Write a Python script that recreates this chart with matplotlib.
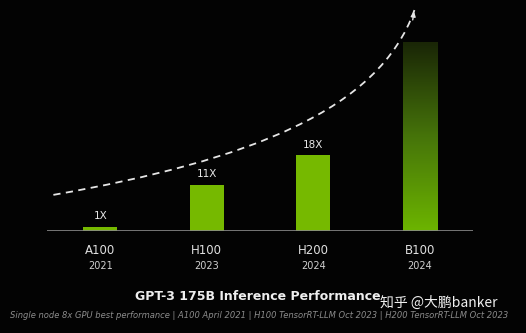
import numpy as np
import matplotlib.pyplot as plt
from matplotlib.colors import LinearSegmentedColormap
from matplotlib.path import Path
from matplotlib.patches import PathPatch

gpus = ['A100', 'H100', 'H200', 'B100']
years = ['2021', '2023', '2024', '2024']
speedup = [1, 11, 18, 45]
speedup_labels = ['1X', '11X', '18X', '']

# bezier control points of the dashed trend arrow (data units)
trend_x = [-0.44, 1.41, 2.62, 2.95]
trend_y = [8.6, 16.9, 28.8, 52.6]

bg = '#030303'
green = '#76b900'

fig = plt.figure(figsize=(5.26, 3.33), dpi=100, facecolor=bg)
ax = fig.add_axes([47 / 526, 102 / 333, 426 / 526, 231 / 333], facecolor=bg)

x = np.arange(len(gpus))
ax.bar(x[:3], speedup[:3], width=0.32, color=green, zorder=2)

# B100 bar with fading gradient
b = ax.bar(x[3], speedup[3], width=0.32, color='none', zorder=2)[0]
cmap = LinearSegmentedColormap.from_list('fade', ['#1a2606', '#46740a', '#6cb400'])
grad = np.linspace(0, 1, 100).reshape(-1, 1)
img = ax.imshow(grad, cmap=cmap, aspect='auto', zorder=2,
                extent=[x[3] - 0.16, x[3] + 0.16, 0, speedup[3]])
img.set_clip_path(b)

for xi, v, lab in zip(x, speedup, speedup_labels):
    if lab:
        ax.text(xi, v + 1.3, lab, ha='center', va='bottom', color='#e8e8e8',
                fontsize=7.5)

ax.axhline(0, color='#8a8a8a', lw=1.2, zorder=3)

path = Path(list(zip(trend_x, trend_y)), [Path.MOVETO, Path.CURVE4, Path.CURVE4, Path.CURVE4])
ax.add_patch(PathPatch(path, fill=False, ec='#e6e6e6', lw=1.3, ls=(0, (4, 3)), zorder=1))
ax.annotate('', xy=(trend_x[3], trend_y[3] + 0.3), xytext=(trend_x[3] - 0.02, trend_y[3] - 3),
            arrowprops=dict(arrowstyle='-|>', color='#e6e6e6', lw=1.0, mutation_scale=7))

for xi, g, yr in zip(x, gpus, years):
    ax.text(xi, -3.0, g, ha='center', va='top', color='#e0e0e0', fontsize=8.5)
    ax.text(xi, -7.2, yr, ha='center', va='top', color='#d0d0d0', fontsize=7)

ax.set_xlim(-0.5, 3.5)
ax.set_ylim(0, 55)
ax.axis('off')

fig.text(258 / 526, 1 - 296 / 333, 'GPT-3 175B Inference Performance', ha='center', va='center',
         color='#eeeeee', fontsize=9.0, fontweight='bold')
fig.text(259 / 526, 1 - 315 / 333,
         'Single node 8x GPU best performance | A100 April 2021 | H100 TensorRT-LLM Oct 2023 | H200 TensorRT-LLM Oct 2023',
         ha='center', va='center', color='#8c8c8c', fontsize=6.0, style='italic')
fig.text(498 / 526, 1 - 303 / 333, '知乎 @大鹏banker', ha='right', va='center',
         color='#f0f0f0', fontsize=10, family=['Noto Sans CJK SC', 'DejaVu Sans'])

fig.savefig('out.png', dpi=100, facecolor=bg)
